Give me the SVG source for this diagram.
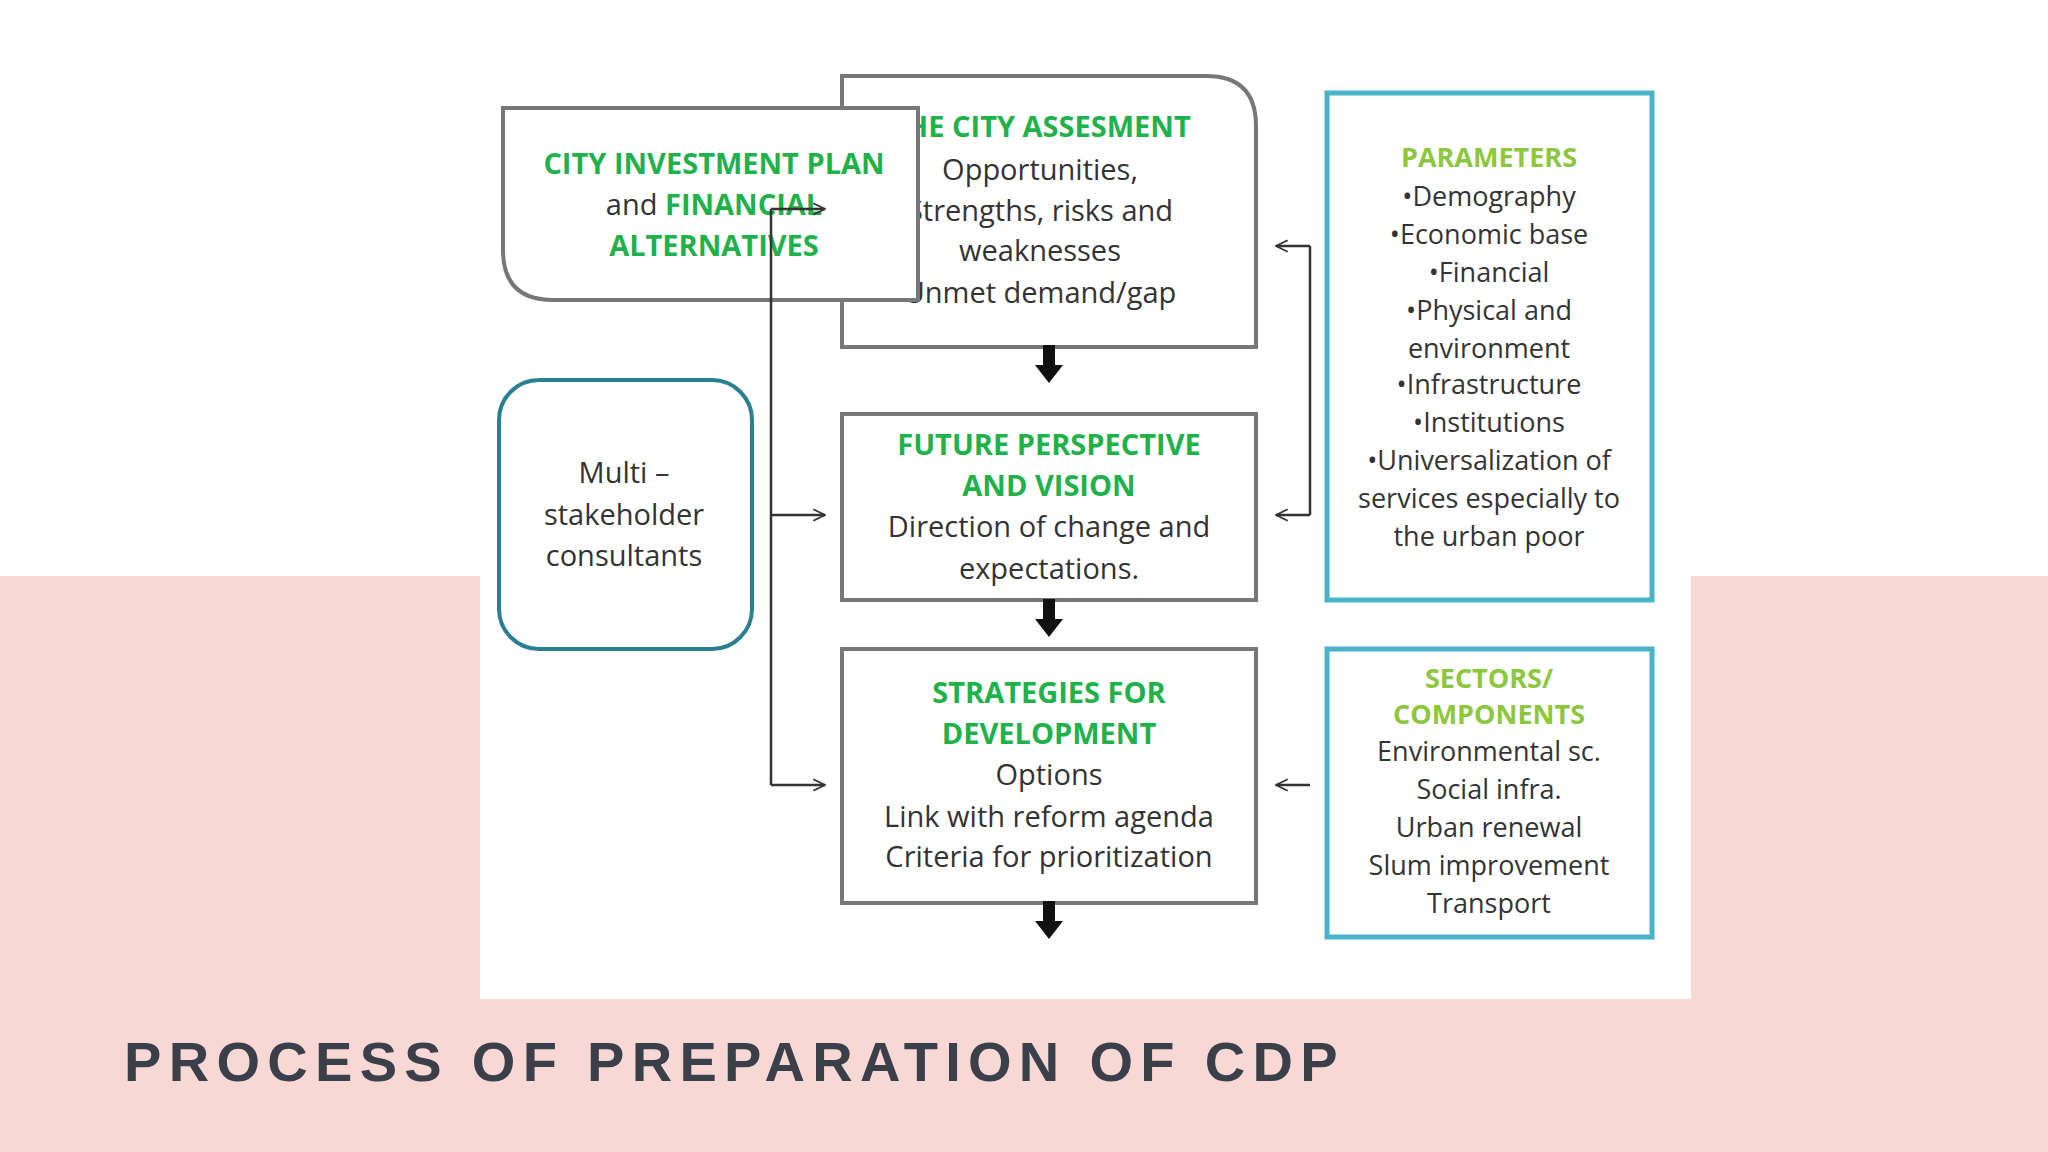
<svg xmlns="http://www.w3.org/2000/svg" width="2048" height="1152" viewBox="0 0 2048 1152">
<defs>
<style>
.t{font-family:"Open Sans","Liberation Sans",sans-serif;font-size:29px;fill:#333;text-anchor:middle}
.g{fill:#1fb14a;font-weight:bold}
.lg{fill:#8dc63f;font-weight:bold}
.s{font-size:27px}
.box{fill:#fff;stroke:#777;stroke-width:4}
.tb{fill:#fff;stroke:#4bb3c8;stroke-width:5}
.ln{fill:none;stroke:#333;stroke-width:2.5}
</style>
<marker id="oa" viewBox="0 0 12 12" refX="11" refY="6" markerWidth="14" markerHeight="14" markerUnits="userSpaceOnUse" orient="auto"><path d="M1,1 L11,6 L1,11" fill="none" stroke="#333" stroke-width="1.5"/></marker>
<path id="da" d="M-6,0 H6 V20 H14 L0,38 L-14,20 H-6 Z" fill="#111"/>
</defs>
<rect width="2048" height="1152" fill="#fff"/>
<rect y="576" width="2048" height="576" fill="#f7d8d4"/>
<rect x="480" y="0" width="1211" height="999" fill="#fff"/>
<text x="124" y="1081" font-family="Liberation Sans,Arial,sans-serif" font-weight="bold" font-size="56" letter-spacing="7.3" fill="#3a3f4a">PROCESS OF PREPARATION OF CDP</text>

<g id="assessment">
<path class="box" d="M842,76 H1206 Q1256,76 1256,126 V347 H842 Z"/>
<text class="t" x="1040" y="137"><tspan class="g">THE CITY ASSESMENT</tspan></text>
<text class="t" x="1040" y="180">Opportunities,</text>
<text class="t" x="1040" y="221">Strengths, risks and</text>
<text class="t" x="1040" y="261">weaknesses</text>
<text class="t" x="1040" y="303">Unmet demand/gap</text>
</g>
<g id="investment">
<path class="box" d="M503,108 H918 V300 H553 Q503,300 503,250 Z"/>
<text class="t" x="714" y="174"><tspan class="g">CITY INVESTMENT PLAN</tspan></text>
<text class="t" x="714" y="215">and <tspan class="g">FINANCIAL</tspan></text>
<text class="t" x="714" y="256"><tspan class="g">ALTERNATIVES</tspan></text>
</g>
<g id="stakeholder">
<rect x="499" y="380" width="253" height="269" rx="40" fill="#fff" stroke="#2a7f92" stroke-width="4"/>
<text class="t" x="624" y="483">Multi –</text>
<text class="t" x="624" y="525">stakeholder</text>
<text class="t" x="624" y="566">consultants</text>
</g>
<g id="future">
<rect class="box" x="842" y="414" width="414" height="186"/>
<text class="t" x="1049" y="455"><tspan class="g">FUTURE PERSPECTIVE</tspan></text>
<text class="t" x="1049" y="496"><tspan class="g">AND VISION</tspan></text>
<text class="t" x="1049" y="537">Direction of change and</text>
<text class="t" x="1049" y="579">expectations.</text>
</g>
<g id="strategies">
<rect class="box" x="842" y="649" width="414" height="254"/>
<text class="t" x="1049" y="703"><tspan class="g">STRATEGIES FOR</tspan></text>
<text class="t" x="1049" y="744"><tspan class="g">DEVELOPMENT</tspan></text>
<text class="t" x="1049" y="785">Options</text>
<text class="t" x="1049" y="827">Link with reform agenda</text>
<text class="t" x="1049" y="867">Criteria for prioritization</text>
</g>
<g id="parameters">
<rect class="tb" x="1327" y="93" width="325" height="507"/>
<g class="t s">
<text x="1489" y="167" class="lg">PARAMETERS</text>
<text x="1489" y="206">•Demography</text>
<text x="1489" y="244">•Economic base</text>
<text x="1489" y="282">•Financial</text>
<text x="1489" y="320">•Physical and</text>
<text x="1489" y="358">environment</text>
<text x="1489" y="394">•Infrastructure</text>
<text x="1489" y="432">•Institutions</text>
<text x="1489" y="470">•Universalization of</text>
<text x="1489" y="508">services especially to</text>
<text x="1489" y="546">the urban poor</text>
</g>
</g>
<g id="sectors">
<rect class="tb" x="1327" y="649" width="325" height="288"/>
<g class="t s">
<text x="1489" y="688" class="lg">SECTORS/</text>
<text x="1489" y="724" class="lg">COMPONENTS</text>
<text x="1489" y="761">Environmental sc.</text>
<text x="1489" y="799">Social infra.</text>
<text x="1489" y="837">Urban renewal</text>
<text x="1489" y="875">Slum improvement</text>
<text x="1489" y="913">Transport</text>
</g>
</g>
<g id="connectors">
<use href="#da" x="1049" y="345"/>
<use href="#da" x="1049" y="599"/>
<use href="#da" x="1049" y="901"/>
<path class="ln" d="M771,209 V785"/>
<path class="ln" d="M771,209 H825" marker-end="url(#oa)"/>
<path class="ln" d="M771,515 H825" marker-end="url(#oa)"/>
<path class="ln" d="M771,785 H825" marker-end="url(#oa)"/>
<path class="ln" d="M1310,246 V515"/>
<path class="ln" d="M1310,246 H1276" marker-end="url(#oa)"/>
<path class="ln" d="M1310,515 H1276" marker-end="url(#oa)"/>
<path class="ln" d="M1310,785 H1276" marker-end="url(#oa)"/>
</g>
</svg>
